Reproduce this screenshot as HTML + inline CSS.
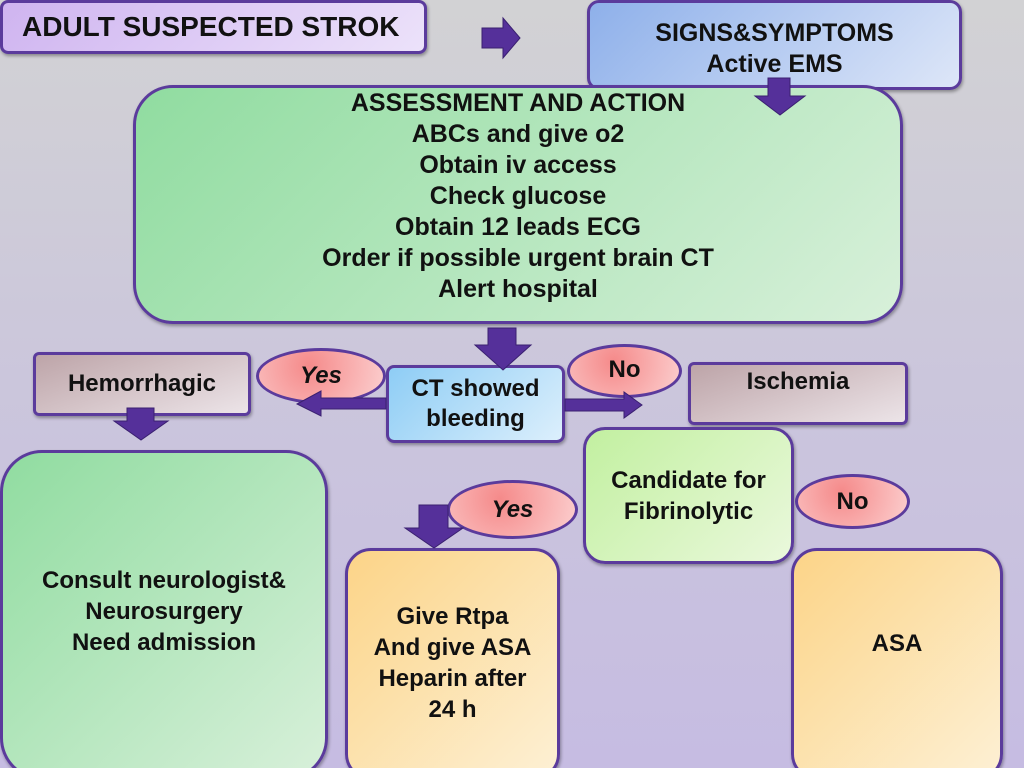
<!DOCTYPE html>
<html style="margin:0;overflow:hidden;width:1024px;height:768px;background:#c6bce2"><head><style>
body{margin:0;width:1024px;height:768px;overflow:hidden;position:relative;background:linear-gradient(180deg,#d2d2d4 0%,#cbc6dc 50%,#c6bce2 100%);font-family:"Liberation Sans",sans-serif;font-weight:bold;color:#111}
.b{position:absolute;box-sizing:border-box;border:3px solid #5b3b9c;display:flex;align-items:center;justify-content:center;text-align:center;box-shadow:1px 2px 3px rgba(0,0,0,.35);white-space:nowrap}
.e{position:absolute;box-sizing:border-box;border:3px solid #5b3b9c;border-radius:50%;background:radial-gradient(circle at 40% 30%,#f58a8a,#fcd0d0);display:flex;align-items:center;justify-content:center;font-size:24px}
svg{position:absolute;left:0;top:0}
</style></head><body>
<div class="b" style="left:0;top:0;width:427px;height:54px;border-radius:8px;background:linear-gradient(135deg,#cfb4f0,#ece2fa);font-size:28px;justify-content:flex-start;padding-left:19px">ADULT SUSPECTED STROK</div>
<div class="b" style="left:587px;top:0;width:375px;height:90px;border-radius:12px;background:linear-gradient(135deg,#8eb0ea,#dde6f8);font-size:25px;line-height:31px;align-items:flex-start;padding-top:15px">SIGNS&amp;SYMPTOMS<br>Active EMS</div>
<div class="b" style="left:133px;top:85px;width:770px;height:239px;border-radius:40px;background:linear-gradient(135deg,#90dca0,#d8f0da);font-size:25px;line-height:31px;align-items:flex-start;padding-top:0px">ASSESSMENT AND ACTION<br>ABCs and give o2<br>Obtain iv access<br>Check glucose<br>Obtain 12 leads ECG<br>Order if possible urgent brain CT<br>Alert hospital</div>
<div class="b" style="left:33px;top:352px;width:218px;height:64px;border-radius:6px;background:linear-gradient(160deg,#bda4a8,#ece4e8);font-size:24px">Hemorrhagic</div>
<div class="b" style="left:688px;top:362px;width:220px;height:63px;border-radius:6px;background:linear-gradient(160deg,#bda4a8,#ece4e8);font-size:24px;align-items:flex-start;padding-top:3px">Ischemia</div>
<div class="b" style="left:386px;top:365px;width:179px;height:78px;border-radius:8px;background:linear-gradient(135deg,#8ecdf5,#dceffc);font-size:24px;line-height:30px">CT showed<br>bleeding</div>
<div class="e" style="left:256px;top:348px;width:130px;height:56px;font-style:italic">Yes</div>
<div class="e" style="left:567px;top:344px;width:115px;height:54px;align-items:flex-start;padding-top:9px">No</div>
<div class="b" style="left:0;top:450px;width:328px;height:330px;border-radius:42px;background:linear-gradient(135deg,#90dca0,#d8f0da);font-size:24px;line-height:31px;align-items:flex-start;padding-top:112px">Consult neurologist&amp;<br>Neurosurgery<br>Need admission</div>
<div class="b" style="left:583px;top:427px;width:211px;height:137px;border-radius:22px;background:linear-gradient(135deg,#c2f0a0,#eaf8dc);font-size:24px;line-height:31px">Candidate for<br>Fibrinolytic</div>
<div class="e" style="left:447px;top:480px;width:131px;height:59px;font-style:italic">Yes</div>
<div class="e" style="left:795px;top:474px;width:115px;height:55px">No</div>
<div class="b" style="left:345px;top:548px;width:215px;height:232px;border-radius:26px;background:linear-gradient(135deg,#fcd488,#fdf0d4);font-size:24px;line-height:31px;align-items:flex-start;padding-top:50px">Give Rtpa<br>And give ASA<br>Heparin after<br>24 h</div>
<div class="b" style="left:791px;top:548px;width:212px;height:232px;border-radius:26px;background:linear-gradient(135deg,#fcd488,#fdf0d4);font-size:24px;padding-bottom:40px">ASA</div>
<svg width="1024" height="768"><g fill="#55309a" stroke="#3a2070" stroke-width="1">
<polygon points="482,28 503,28 503,18 520,38 503,58 503,48 482,48"/>
<polygon points="768,78 790,78 790,96 805,96 780,115 755,96 768,96"/>
<polygon points="488,328 516,328 516,345 531,345 503,370 475,345 488,345"/>
<polygon points="386,398 321,398 321,391 297,404 321,416 321,409 386,409"/>
<polygon points="565,399 624,399 624,392 642,405 624,418 624,411 565,411"/>
<polygon points="127,408 154,408 154,421 168,421 141,440 114,421 127,421"/>
<polygon points="419,505 448,505 448,528 463,528 434,548 405,528 419,528"/>
</g></svg>
</body></html>
